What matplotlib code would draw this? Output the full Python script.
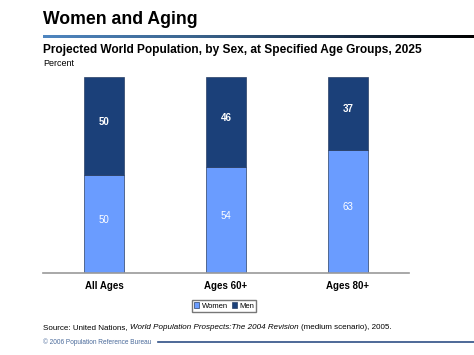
import numpy as np
import matplotlib
matplotlib.use("Agg")
from matplotlib import pyplot as plt
from matplotlib.colors import LinearSegmentedColormap
from matplotlib.patches import Patch

plt.rcParams["font.family"] = ["Liberation Sans", "DejaVu Sans"]

# data
categories = ["All Ages", "Ages 60+", "Ages 80+"]
women = [50, 54, 63]
men = [50, 46, 37]

women_color = "#6a9cff"
men_color = "#1b4079"

W, H = 474, 355
fig = plt.figure(figsize=(W / 100, H / 100), dpi=100)


def fx(px):
    return px / W


def fy(py):
    return 1 - py / H


# main chart axes
ax = fig.add_axes([fx(43), fy(273), fx(409) - fx(43), fy(77) - fy(273)])
x = np.arange(len(categories))
ax.bar(x, women, width=0.33, color=women_color, edgecolor="#2a3f66", linewidth=0.5)
ax.bar(x, men, width=0.33, bottom=women, color=men_color, edgecolor="#2a3f66", linewidth=0.5)

for i in range(len(categories)):
    ax.text(x[i], women[i] / 2 + 2, str(women[i]), ha="center", va="center",
            color="white", fontsize=7)
    ax.text(x[i], women[i] + men[i] / 2 + 2, str(men[i]), ha="center", va="center",
            color="white", fontsize=7, fontweight="bold")

ax.set_xlim(-0.5, 2.5)
ax.set_ylim(0, 100)
ax.set_yticks([])
ax.set_xticks(x)
ax.set_xticklabels(categories, fontsize=7, fontweight="bold")
ax.tick_params(axis="x", length=0, pad=6)
for s in ["top", "right", "left"]:
    ax.spines[s].set_visible(False)
ax.spines["bottom"].set_color("#999999")
ax.spines["bottom"].set_linewidth(1.2)

# legend
handles = [Patch(facecolor=women_color, edgecolor="#2a3f66", linewidth=0.5),
           Patch(facecolor=men_color, edgecolor="#2a3f66", linewidth=0.5)]
fig.legend(handles, ["Women", "Men"], loc="center", bbox_to_anchor=(fx(224), fy(306)),
           ncol=2, fontsize=5.5, frameon=True, fancybox=False, edgecolor="#555555",
           handlelength=0.7, handleheight=0.7, handletextpad=0.3, columnspacing=0.5,
           borderpad=0.3, borderaxespad=0)

# titles
fig.text(fx(43), fy(20), "Women and Aging", fontsize=12.7, fontweight="bold",
         va="center", ha="left")
fig.text(fx(43), fy(49.5), "Projected World Population, by Sex, at Specified Age Groups, 2025",
         fontsize=8.6, fontweight="bold", va="center", ha="left")
fig.text(fx(43), fy(63.5), "Percent", fontsize=6.5, va="center", ha="left")

# gradient rule under title
cmap = LinearSegmentedColormap.from_list("rule", ["#4f86c0", "#3d6791", "#1e3550", "#000000"])
gax = fig.add_axes([fx(43), fy(38.5), fx(474) - fx(43), fy(35) - fy(38.5)])
gax.imshow(np.linspace(0, 1, 256)[None, :], aspect="auto", cmap=cmap)
gax.axis("off")

# source line, built from three pieces so the title part is italic
fs = 5.8
t1 = fig.text(fx(43), fy(327.5), "Source: United Nations,", fontsize=fs, va="center", ha="left")
fig.canvas.draw()
r = fig.canvas.get_renderer()
bb = t1.get_window_extent(r)
t2 = fig.text((bb.x1 + 2.5) / W, fy(327.5), "World Population Prospects:The 2004 Revision",
              fontsize=fs, fontstyle="italic", va="center", ha="left")
bb2 = t2.get_window_extent(r)
fig.text((bb2.x1 + 2) / W, fy(327.5), "(medium scenario), 2005.", fontsize=fs,
         va="center", ha="left")

fig.text(fx(43), fy(342), "\u00a9 2006 Population Reference Bureau", fontsize=4.7,
         color="#4a6a9a", va="center", ha="left")
fig.add_artist(plt.Line2D([fx(158), fx(474)], [fy(342), fy(342)], color="#2f4f85",
                          linewidth=1.2))

fig.savefig("out.png", dpi=100)
